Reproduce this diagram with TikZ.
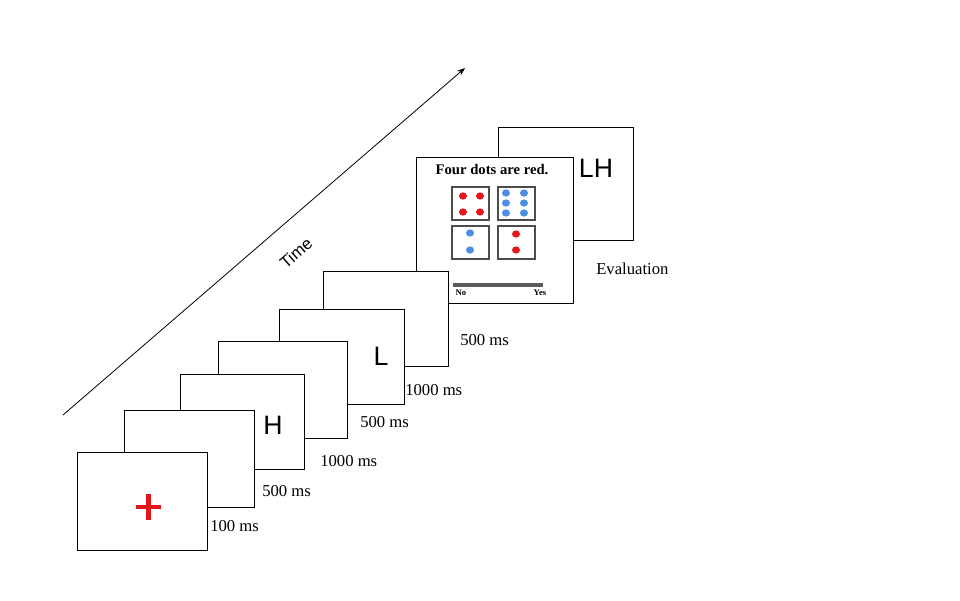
\documentclass[tikz,border=0pt]{standalone}
\usepackage{fontspec}
\usetikzlibrary{arrows.meta}
\setmainfont{Liberation Serif}
\newfontfamily\arialf{Liberation Sans}
\definecolor{dotblue}{HTML}{4A8FE4}
\definecolor{dotred}{HTML}{E8141C}
\begin{document}
\begin{tikzpicture}[x=0.75pt,y=-0.75pt,
 frame/.style={draw=black,fill=white,line width=0.7pt},
 ms/.style={font=\fontsize{12.5}{14}\selectfont,anchor=west,inner sep=0pt},
 let/.style={font=\arialf\fontsize{20}{22}\selectfont},
 sbox/.style={draw=black!70,line width=0.8pt},
 rd/.style={fill=dotred},
 bd/.style={fill=dotblue}]
\useasboundingbox (0,0) rectangle (960,600);
\coordinate (ts) at (63,415); \coordinate (te) at (465,68);
\draw[-{Stealth[length=6pt]},line width=0.6pt] (ts) -- (te);
\node[font=\arialf\fontsize{12.5}{14}\selectfont,rotate=40.8,inner sep=0pt] (time) at (296,253) {Time};
% LH
\draw[frame] (498,127) rectangle (633,240);
\node[let] (lh) at (596,168) {LH};
\node[ms] (ev) at (596,269) {Evaluation};
% eval
\draw[frame] (416,157) rectangle (573,303);
\node[font=\bfseries\fontsize{11}{13}\selectfont] (q) at (492,170) {Four dots are red.};
\draw[sbox] (452,187) rectangle (489,220);
\draw[sbox] (498,187) rectangle (535,220);
\draw[sbox] (452,226) rectangle (489,259);
\draw[sbox] (498,226) rectangle (535,259);
\foreach \p in {(463,196),(480,196),(463,212),(480,212),(516,234),(516,250)} \fill[rd] \p ellipse (4 and 3.6);
\foreach \p in {(506,193),(524,193),(506,203),(524,203),(506,213),(524,213),(470,233),(470,250)} \fill[bd] \p ellipse (4 and 3.6);
\draw[line width=3pt,black!65] (453,285) -- (543,285);
\node[font=\bfseries\fontsize{6.5}{8}\selectfont] (no) at (461,293) {No};
\node[font=\bfseries\fontsize{6.5}{8}\selectfont] (yes) at (540,293) {Yes};
% frames
\draw[frame] (323,271) rectangle (448,366);
\node[ms] (t6) at (460,340) {500 ms};
\draw[frame] (279,309) rectangle (404,404);
\node[let] (L) at (381,356) {L};
\node[ms] (t5) at (405,390) {1000 ms};
\draw[frame] (218,341) rectangle (347,438);
\node[ms] (t4) at (360,422) {500 ms};
\draw[frame] (180,374) rectangle (304,469);
\node[let] (H) at (273,425) {H};
\node[ms] (t3) at (320,461) {1000 ms};
\draw[frame] (124,410) rectangle (254,507);
\node[ms] (t2) at (262,491) {500 ms};
\draw[frame] (77,452) rectangle (207,550);
\draw[dotred,line width=3.2pt] (136,507) -- (161,507) (148.5,494) -- (148.5,520);
\node[ms] (t1) at (210,526) {100 ms};
\end{tikzpicture}
\end{document}
